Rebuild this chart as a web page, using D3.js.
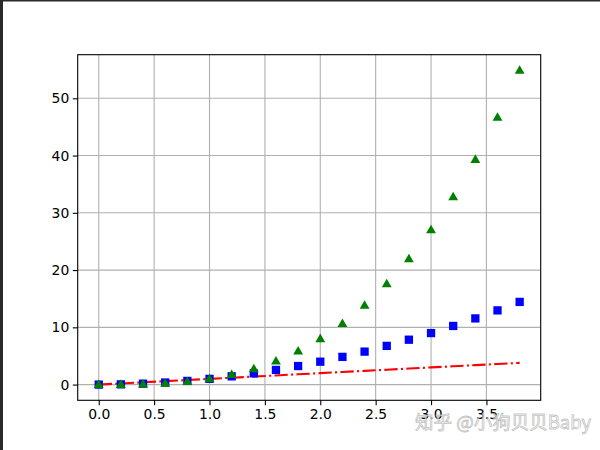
<!DOCTYPE html>
<html><head><meta charset="utf-8">
<script src="https://cdn.jsdelivr.net/npm/d3@7"></script>
<style>body{margin:0;background:#fff;} svg{display:block;}</style>
</head><body>
<svg id="c" width="600" height="450"></svg>
<script>
const tValues = [0.0,0.2,0.4,0.6,0.8,1.0,1.2,1.4,1.6,1.8,2.0,2.2,2.4,2.6,2.8,3.0,3.2,3.4,3.6,3.8];
const lineSeries = [0.0,0.2,0.4,0.6,0.8,1.0,1.2,1.4,1.6,1.8,2.0,2.2,2.4,2.6,2.8,3.0,3.2,3.4,3.6,3.8];
const squareSeries = [0.0,0.04,0.16,0.36,0.64,1.0,1.44,1.96,2.56,3.24,4.0,4.84,5.76,6.76,7.84,9.0,10.24,11.56,12.96,14.44];
const triangleSeries = [0.0,0.008,0.064,0.216,0.512,1.0,1.728,2.744,4.096,5.832,8.0,10.648,13.824,17.576,21.952,27.0,32.768,39.304,46.656,54.872];
const xTicks = [0.0,0.5,1.0,1.5,2.0,2.5,3.0,3.5];
const yTicks = [0,10,20,30,40,50];
const watermark = "知乎 @小狗贝贝Baby";

const svg = d3.select("#c");
const L=77.7, R=540.7, T=54.7, B=400.3;
const x = d3.scaleLinear().domain([-0.19,3.99]).range([L,R]);
const y = d3.scaleLinear().domain([-2.7436,57.6156]).range([B,T]);

// screenshot borders
svg.append("rect").attr("x",0).attr("y",0).attr("width",600).attr("height",1.5).attr("fill","#2a2a2a");
svg.append("rect").attr("x",0).attr("y",0).attr("width",3).attr("height",450).attr("fill","#2a2a2a");

const g = svg.append("g");
// grid
g.selectAll(".gx").data(xTicks).join("line")
  .attr("x1",d=>x(d)).attr("x2",d=>x(d)).attr("y1",T).attr("y2",B)
  .attr("stroke","#b0b0b0").attr("stroke-width",1.1);
g.selectAll(".gy").data(yTicks).join("line")
  .attr("y1",d=>y(d)).attr("y2",d=>y(d)).attr("x1",L).attr("x2",R)
  .attr("stroke","#b0b0b0").attr("stroke-width",1.1);

// red dash-dot line
const clip = svg.append("clipPath").attr("id","cp").append("rect").attr("x",L).attr("y",T).attr("width",R-L).attr("height",B-T);
g.append("path").datum(tValues.map((t,i)=>[t,lineSeries[i]]))
  .attr("d", d3.line().x(d=>x(d[0])).y(d=>y(d[1])))
  .attr("fill","none").attr("stroke","#ff0000").attr("stroke-width",2.1)
  .attr("stroke-dasharray","13.3,3.3,2.1,3.3");

// blue squares
const s = 8.3;
g.selectAll(".sq").data(tValues.map((t,i)=>[t,squareSeries[i]])).join("rect")
  .attr("x",d=>x(d[0])-s/2).attr("y",d=>y(d[1])-s/2).attr("width",s).attr("height",s)
  .attr("fill","#0000ff");

// green triangles
const tri = d3.symbol().type(d3.symbolTriangle).size(42);
g.selectAll(".tr").data(tValues.map((t,i)=>[t,triangleSeries[i]])).join("path")
  .attr("d", tri).attr("transform",d=>`translate(${x(d[0])},${y(d[1])+0.5})`)
  .attr("fill","#008000");

// frame
svg.append("rect").attr("x",L).attr("y",T).attr("width",R-L).attr("height",B-T)
  .attr("fill","none").attr("stroke","#000").attr("stroke-width",1.1);

// axes
const xa = svg.append("g").attr("transform",`translate(0,${B})`)
  .call(d3.axisBottom(x).tickValues(xTicks).tickFormat(d3.format(".1f")).tickSize(4.9).tickSizeOuter(0));
const ya = svg.append("g").attr("transform",`translate(${L},0)`)
  .call(d3.axisLeft(y).tickValues(yTicks).tickFormat(d3.format("d")).tickSize(4.9).tickSizeOuter(0));
[xa,ya].forEach(a=>{
  a.select(".domain").remove();
  a.selectAll("line").attr("stroke","#000").attr("stroke-width",1.1);
  a.selectAll("text").attr("font-family","DejaVu Sans").attr("font-size",13.9).attr("fill","#000");
});
xa.selectAll("text").attr("dy","0.71em").attr("y",8.4);
ya.selectAll("text").attr("x",-8.4);

// watermark
svg.append("text").attr("x",415).attr("y",429).text(watermark)
  .attr("font-family","Noto Sans CJK SC").attr("font-size",18.5)
  .attr("fill","rgba(255,255,255,0.75)").attr("stroke","rgba(140,140,140,0.55)").attr("stroke-width",0.8);
</script>
</body></html>
